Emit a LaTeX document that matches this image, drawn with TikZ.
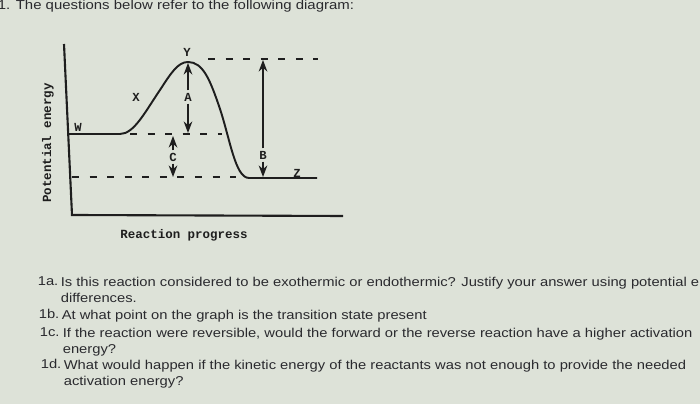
\documentclass[tikz,border=0pt]{standalone}
\usepackage{fontspec}
\setmainfont{Liberation Sans}
\newfontfamily\graphfont{Liberation Mono}
\usetikzlibrary{arrows.meta}
\definecolor{paper}{RGB}{221,226,216}
\definecolor{ink}{RGB}{30,30,30}
\definecolor{print}{RGB}{42,42,46}

\begin{document}
\begin{tikzpicture}[x=0.02cm, y=-0.02cm, thick, >=Stealth,
    lbl/.style = {font=\graphfont\bfseries\fontsize{7}{7}\selectfont, text=ink, inner sep=1pt},
    axlbl/.style = {font=\graphfont\bfseries\fontsize{7.1}{7.1}\selectfont, text=ink, inner sep=0pt},
    num/.style = {font=\fontsize{7.3}{8.9}\selectfont, text=print, anchor=base west, inner sep=0pt, xscale=1.15},
    ques/.style = {num, align=left, anchor=north west},
    guide/.style = {ink, dash pattern=on 4pt off 6pt},
    curve/.style = {ink, line width=1.1pt}]
  \fill[paper] (0,0) rectangle (700,404);
  \useasboundingbox (0,0) rectangle (700,404);

  % title and questions
  \node[num, font=\fontsize{7.4}{7.4}\selectfont] (title) at (-3,10) {1. The questions below refer to the following diagram:};
  \node[num] (1a) at (37,286) {1a.};
  \node[ques] (t1a) at (60,276.6) {Is this reaction considered to be exothermic or endothermic? Justify your answer using potential e\\differences.};
  \node[num] (1b) at (38,319) {1b.};
  \node[ques] (t1b) at (61,309.6) {At what point on the graph is the transition state present};
  \node[num] (1c) at (39,337) {1c.};
  \node[ques] (t1c) at (62,327.6) {If the reaction were reversible, would the forward or the reverse reaction have a higher activation\\energy?};
  \node[num] (1d) at (40,369) {1d.};
  \node[ques] (t1d) at (63,359.6) {What would happen if the kinetic energy of the reactants was not enough to provide the needed\\activation energy?};

  % axes
  \coordinate (top) at (64,44);
  \coordinate (origin) at (72,215);
  \coordinate (end) at (343,216);
  \draw[ink, line width=1.2pt] (top) -- (origin) -- (end);
  \node[axlbl, rotate=90] (pe) at (48,143) {Potential energy};
  \node[axlbl] (rp) at (184,235) {Reaction progress};

  % energy curve
  \draw[curve] (68,134) -- (120,134) .. controls (134,134) and (145,112) .. (160,90)
    .. controls (171,73) and (178,62) .. (188,62)
    .. controls (203,62) and (210,80) .. (219,106)
    .. controls (230,138) and (235,178) .. (249,178) -- (317,178);

  % level guides
  \coordinate (p1) at (208,59);  \coordinate (p2) at (318,59);
  \coordinate (w1) at (130,134); \coordinate (w2) at (222,134);
  \coordinate (z1) at (72,177);  \coordinate (z2) at (236,177);
  \draw[guide] (p1) -- (p2);
  \draw[guide] (w1) -- (w2);
  \draw[guide] (z1) -- (z2);

  % point labels
  \node[lbl] (W) at (78,127) {W};
  \node[lbl] (X) at (136,97) {X};
  \node[lbl] (Y) at (187,52) {Y};
  \node[lbl] (Z) at (297,173) {Z};

  % energy arrows
  \node[lbl] (A) at (188,97) {A};
  \coordinate (a1) at (188,63);
  \coordinate (a2) at (188,133);
  \draw[->, ink] (A) -- (a1);
  \draw[->, ink] (A) -- (a2);

  \node[lbl] (C) at (173,157) {C};
  \coordinate (c1) at (173,136);
  \coordinate (c2) at (173,177);
  \draw[->, ink] (C) -- (c1);
  \draw[->, ink] (C) -- (c2);

  \node[lbl] (B) at (263,155) {B};
  \coordinate (b1) at (263,60);
  \coordinate (b2) at (263,177);
  \draw[->, ink] (B) -- (b1);
  \draw[->, ink] (B) -- (b2);
\end{tikzpicture}
\end{document}
